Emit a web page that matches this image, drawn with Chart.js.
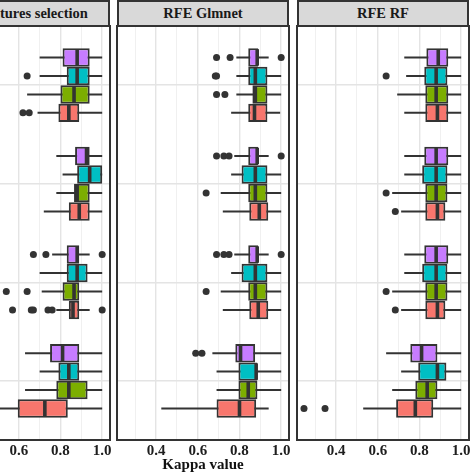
<!DOCTYPE html>
<html>
<head>
<meta charset="utf-8">
<script src="https://cdn.jsdelivr.net/npm/chart.js@4.4.1/dist/chart.umd.min.js"></script>
<style>
  html, body { margin: 0; padding: 0; background: #fff; }
  body { width: 474px; height: 474px; position: relative; overflow: hidden; }
  .strip {
    position: absolute; top: 0; width: 172px; height: 27px; box-sizing: border-box;
    border: 2px solid #333; background: #d9d9d9; color: #1a1a1a;
    font: bold 14.5px 'Liberation Serif', 'Times New Roman', serif;
    text-align: center; line-height: 23px; white-space: nowrap; overflow: hidden;
  }
  canvas { position: absolute; top: 24px; }
</style>
</head>
<body>
<div class="strip" style="left:-62px">No features selection</div>
<div class="strip" style="left:117px">RFE Glmnet</div>
<div class="strip" style="left:297px">RFE RF</div>
<canvas id="p1" width="176" height="450" style="left:-64px"></canvas>
<canvas id="p2" width="176" height="450" style="left:115px"></canvas>
<canvas id="p3" width="176" height="450" style="left:295px"></canvas>
<script>
// groups (top to bottom) and series (top to bottom inside a group)
const groups = ['Group 1', 'Group 2', 'Group 3', 'Group 4'];
const seriesNames = ['Series 4', 'Series 3', 'Series 2', 'Series 1'];
const seriesColors = ['#C77CFF', '#00BFC4', '#7CAE00', '#F8766D'];
const majorTicks = [0.4, 0.6, 0.8, 1.0];
const minorTicks = [0.3, 0.5, 0.7, 0.9];

// each entry: [lower whisker, q1, median, q3, upper whisker, [outliers]]
const noFsPurple = [[0.70, 0.81, 0.88, 0.94, 1.00, []], [0.78, 0.87, 0.925, 0.94, 1.00, []], [0.76, 0.83, 0.88, 0.89, 0.94, [0.67, 0.73, 1.00]], [0.63, 0.75, 0.81, 0.89, 1.00, []]];
const noFsTeal = [[0.70, 0.83, 0.88, 0.94, 1.00, [0.64]], [0.81, 0.88, 0.94, 1.00, 1.00, []], [0.70, 0.83, 0.88, 0.93, 1.00, []], [0.70, 0.79, 0.84, 0.89, 1.00, []]];
const noFsGreen = [[0.64, 0.80, 0.865, 0.94, 1.00, []], [0.78, 0.865, 0.88, 0.94, 1.00, []], [0.71, 0.81, 0.865, 0.89, 1.00, [0.54, 0.64]], [0.63, 0.78, 0.84, 0.93, 1.00, []]];
const noFsSalmon = [[0.69, 0.79, 0.84, 0.89, 1.00, [0.62, 0.65]], [0.72, 0.84, 0.89, 0.94, 1.00, []], [0.78, 0.84, 0.86, 0.89, 0.94, [0.57, 0.66, 0.67, 0.74, 0.76, 1.00]], [0.45, 0.595, 0.725, 0.835, 1.00, []]];

const glmPurple = [[0.785, 0.842, 0.885, 0.89, 0.94, [0.69, 0.755, 1.00]], [0.775, 0.842, 0.885, 0.89, 0.94, [0.69, 0.725, 0.75, 1.00]], [0.775, 0.842, 0.885, 0.89, 0.94, [0.69, 0.725, 0.75, 1.00]], [0.67, 0.78, 0.805, 0.875, 1.00, [0.59, 0.62]]];
const glmTeal = [[0.785, 0.842, 0.876, 0.934, 1.00, [0.684, 0.69]], [0.76, 0.81, 0.876, 0.934, 1.00, []], [0.76, 0.81, 0.876, 0.934, 1.00, []], [0.69, 0.795, 0.88, 0.886, 1.00, []]];
const glmGreen = [[0.785, 0.862, 0.876, 0.934, 1.00, [0.69, 0.73]], [0.71, 0.842, 0.876, 0.934, 1.00, [0.64]], [0.71, 0.842, 0.876, 0.934, 1.00, [0.64]], [0.69, 0.795, 0.842, 0.886, 1.00, []]];
const glmSalmon = [[0.76, 0.842, 0.872, 0.934, 0.995, []], [0.72, 0.847, 0.895, 0.938, 1.00, []], [0.72, 0.847, 0.89, 0.938, 1.00, []], [0.425, 0.69, 0.80, 0.88, 0.94, []]];

const rfPurple = [[0.727, 0.833, 0.89, 0.938, 1.00, []], [0.727, 0.823, 0.88, 0.938, 1.00, []], [0.727, 0.823, 0.88, 0.938, 1.00, []], [0.64, 0.756, 0.81, 0.886, 1.00, []]];
const rfTeal = [[0.736, 0.823, 0.88, 0.934, 1.00, [0.64]], [0.727, 0.813, 0.88, 0.934, 1.00, []], [0.727, 0.813, 0.88, 0.934, 1.00, []], [0.712, 0.794, 0.886, 0.929, 1.00, []]];
const rfGreen = [[0.693, 0.828, 0.88, 0.938, 1.00, []], [0.669, 0.828, 0.88, 0.934, 1.00, [0.64]], [0.669, 0.828, 0.88, 0.934, 1.00, [0.64]], [0.669, 0.78, 0.837, 0.886, 1.00, []]];
const rfSalmon = [[0.727, 0.828, 0.886, 0.938, 1.00, []], [0.712, 0.828, 0.886, 0.924, 1.00, [0.684]], [0.712, 0.828, 0.886, 0.924, 1.00, [0.684]], [0.53, 0.688, 0.78, 0.866, 1.00, [0.246, 0.347]]];

const xMin = 0.2125, xMax = 1.0375;
const serif = "'Liberation Serif', 'Times New Roman', serif";
const isMajor = v => majorTicks.some(m => Math.abs(m - v) < 1e-6);

// whiskers under the boxes, medians + outliers on top, panel border last
const boxExtras = {
  id: 'boxExtras',
  beforeDatasetsDraw(chart) {
    const ctx = chart.ctx, xs = chart.scales.x;
    ctx.save();
    ctx.strokeStyle = '#333333';
    ctx.lineWidth = 2;
    chart.data.datasets.forEach((ds, i) => {
      chart.getDatasetMeta(i).data.forEach((el, j) => {
        const st = ds.stats[j];
        ctx.beginPath();
        ctx.moveTo(xs.getPixelForValue(st[0]), el.y);
        ctx.lineTo(xs.getPixelForValue(st[4]), el.y);
        ctx.stroke();
      });
    });
    ctx.restore();
  },
  afterDatasetsDraw(chart) {
    const ctx = chart.ctx, xs = chart.scales.x;
    ctx.save();
    chart.data.datasets.forEach((ds, i) => {
      chart.getDatasetMeta(i).data.forEach((el, j) => {
        const st = ds.stats[j];
        const mx = xs.getPixelForValue(st[2]);
        ctx.strokeStyle = '#333333';
        ctx.lineWidth = 3.6;
        ctx.beginPath();
        ctx.moveTo(mx, el.y - el.height / 2 + 1);
        ctx.lineTo(mx, el.y + el.height / 2 - 1);
        ctx.stroke();
        ctx.fillStyle = '#333333';
        st[5].forEach(v => {
          ctx.beginPath();
          ctx.arc(xs.getPixelForValue(v), el.y, 3.5, 0, Math.PI * 2);
          ctx.fill();
        });
      });
    });
    ctx.restore();
  },
  afterDraw(chart) {
    const { ctx, chartArea: a } = chart;
    ctx.save();
    ctx.strokeStyle = '#333333';
    ctx.lineWidth = 2;
    ctx.strokeRect(a.left, a.top, a.right - a.left, a.bottom - a.top);
    ctx.restore();
  }
};

function makePanel(id, stats, showTitle) {
  return new Chart(document.getElementById(id), {
    type: 'bar',
    data: {
      datasets: seriesNames.map((name, s) => ({
        label: name,
        stats: stats[s],
        data: stats[s].map((st, g) => ({ y: g + 1, x: [st[1], st[3]] })),
        backgroundColor: seriesColors[s],
        borderColor: '#333333',
        borderWidth: 2,
        borderSkipped: false,
        categoryPercentage: 0.75,
        barPercentage: 1.0
      }))
    },
    options: {
      responsive: false,
      animation: false,
      indexAxis: 'y',
      layout: { padding: { left: 2, right: 2, top: 2, bottom: 0 } },
      plugins: { legend: { display: false }, tooltip: { enabled: false } },
      scales: {
        x: {
          type: 'linear',
          min: xMin,
          max: xMax,
          afterBuildTicks: s => { s.ticks = minorTicks.concat(majorTicks).sort((a, b) => a - b).map(v => ({ value: v })); },
          afterFit: s => { s.height = 34; s.paddingLeft = 0; s.paddingRight = 0; },
          grid: {
            color: c => (c.tick && isMajor(c.tick.value)) ? '#e4e4e4' : '#eeeeee',
            lineWidth: c => (c.tick && isMajor(c.tick.value)) ? 1.4 : 0.9,
            drawTicks: false
          },
          border: { display: false },
          ticks: {
            autoSkip: false,
            maxRotation: 0,
            padding: 2,
            color: '#1e1e1e',
            font: { family: serif, size: 15, weight: 'bold' },
            callback: v => isMajor(v) ? Number(v).toFixed(1) : ''
          },
          title: {
            display: showTitle,
            text: 'Kappa value',
            color: '#111111',
            font: { family: serif, size: 15, weight: 'bold' },
            padding: 0
          }
        },
        y: {
          type: 'linear',
          reverse: true,
          min: 0.4,
          max: 4.6,
          offset: false,
          afterBuildTicks: s => { s.ticks = groups.map((g, i) => ({ value: i + 1 })); },
          afterFit: s => { s.width = 0; s.paddingTop = 0; s.paddingBottom = 0; },
          grid: { offset: false, color: '#e4e4e4', lineWidth: 1.4, drawTicks: false },
          border: { display: false },
          ticks: { display: false }
        }
      }
    },
    plugins: [boxExtras]
  });
}

makePanel('p1', [noFsPurple, noFsTeal, noFsGreen, noFsSalmon], false);
makePanel('p2', [glmPurple, glmTeal, glmGreen, glmSalmon], true);
makePanel('p3', [rfPurple, rfTeal, rfGreen, rfSalmon], false);
</script>
</body>
</html>
